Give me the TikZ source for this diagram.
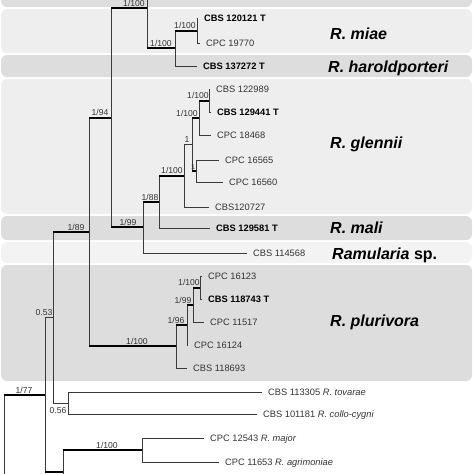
\documentclass[tikz,border=0pt]{standalone}
\usepackage{fontspec}
\setmainfont{Liberation Sans}
\definecolor{bandD}{HTML}{DDDDDD}
\definecolor{bandL}{HTML}{EEEEEE}
\definecolor{bandLL}{HTML}{F3F3F3}
\definecolor{lineC}{HTML}{3A3A3A}
\definecolor{txtC}{HTML}{333333}
\begin{document}
\begin{tikzpicture}[x=1pt,y=-1pt,
  band/.style={rounded corners=6pt, draw=none},
  darkband/.style={band, fill=bandD},
  lightband/.style={band, fill=bandL},
  palestband/.style={band, fill=bandLL},
  vl/.style={draw=lineC, line width=0.9pt},
  hk/.style={draw=black, line width=2pt},
  leaf/.style={anchor=west, inner xsep=6pt, inner ysep=0pt, text height=6.7pt, text depth=0pt, text=txtC, font=\fontsize{9.3}{11}\selectfont},
  bleaf/.style={leaf, text=black, font=\fontsize{9.3}{11}\selectfont\bfseries},
  bs/.style={anchor=south, inner sep=0pt, text height=6.2pt, text depth=0pt, text=txtC, font=\fontsize{8.6}{10}\selectfont},
  clade/.style={anchor=base west, inner sep=0pt, text=black, font=\fontsize{16}{18}\selectfont\bfseries\itshape}]
\clip (0,0) rectangle (474,474);
% background bands
\fill[darkband] (1,-10) rectangle (472,7);
\fill[lightband] (1,9) rectangle (472,53);
\fill[darkband] (1,55) rectangle (472,77);
\fill[lightband] (1,79) rectangle (472,214);
\fill[darkband] (1,216) rectangle (472,240);
\fill[palestband] (1,242) rectangle (472,263);
\fill[darkband] (1,265) rectangle (472,381);
% clade labels
\node[clade] (cmiae) at (330,39) {R. miae};
\node[clade] (charold) at (328,72) {R. haroldporteri};
\node[clade] (cglen) at (330,148) {R. glennii};
\node[clade] (cmali) at (330,233) {R. mali};
\node[clade] (cramu) at (332,259) {Ramularia \upshape sp.};
\node[clade] (cplur) at (330,326) {R. plurivora};
% internal nodes
\coordinate (offTop) at (147,-32);
\coordinate (nTop) at (147,8);
\coordinate (nMiae) at (175,48.25);
\coordinate (nMiaeIn) at (197,30.5);
\coordinate (A) at (111,117.7);
\coordinate (n99) at (143,227.4);
\coordinate (n88) at (159,201.85);
\coordinate (nG100) at (184,175.7);
\coordinate (nG1) at (192,144.4);
\coordinate (nG100b) at (199,117.75);
\coordinate (nG100c) at (209,100.5);
\coordinate (nG1b) at (196,171);
\coordinate (B) at (89,232);
\coordinate (nPlur) at (176,346.4);
\coordinate (nP96) at (187,324.9);
\coordinate (nP99) at (193,304.75);
\coordinate (nP100) at (200,287.5);
\coordinate (n89) at (53,317.5);
\coordinate (n56) at (68,403);
\coordinate (n53) at (45,394.75);
\coordinate (nBot) at (63,472);
\coordinate (offBot) at (63,494);
\coordinate (nMaj) at (142,450);
\coordinate (root) at (4,520);
% leaves
\node[bleaf] (L1) at (198,18) {CBS 120121 T};
\node[leaf] (L2) at (200,43) {CPC 19770};
\node[bleaf] (L3) at (197,66) {CBS 137272 T};
\node[leaf] (L4) at (210,89) {CBS 122989};
\node[bleaf] (L5) at (211,112) {CBS 129441 T};
\node[leaf] (L6) at (211,135) {CPC 18468};
\node[leaf] (L7) at (219,160) {CPC 16565};
\node[leaf] (L8) at (223,182) {CPC 16560};
\node[leaf] (L9) at (209,207) {CBS120727};
\node[bleaf] (L10) at (210,228) {CBS 129581 T};
\node[leaf] (L11) at (247,253) {CBS 114568};
\node[leaf] (L12) at (202,276) {CPC 16123};
\node[bleaf] (L13) at (202,299) {CBS 118743 T};
\node[leaf] (L14) at (204,322) {CPC 11517};
\node[leaf] (L15) at (188,345) {CPC 16124};
\node[leaf] (L16) at (187,368) {CBS 118693};
\node[leaf] (L17) at (262,392) {CBS 113305 \textit{R. tovarae}};
\node[leaf] (L18) at (257,414) {CBS 101181 \textit{R. collo-cygni}};
\node[leaf] (L19) at (204,438) {CPC 12543 \textit{R. major}};
\node[leaf] (L20) at (219,462) {CPC 11653 \textit{R. agrimoniae}};
% thin branches (all)
\foreach \p/\c in {nTop/offTop, A/nTop, A/n99, nTop/nMiae, nMiae/nMiaeIn,
  nMiaeIn/L1.west, nMiaeIn/L2.west, nMiae/L3.west,
  n99/n88, n99/L11.west, n88/nG100, n88/L10.west, nG100/nG1, nG100/L9.west,
  nG1/nG100b, nG1/nG1b, nG100b/nG100c, nG100b/L6.west, nG100c/L4.west, nG100c/L5.west,
  nG1b/L7.west, nG1b/L8.west,
  B/A, B/nPlur, nPlur/nP96, nPlur/L16.west, nP96/nP99, nP96/L15.west,
  nP99/nP100, nP99/L14.west, nP100/L12.west, nP100/L13.west,
  n89/B, n89/n56, n56/L17.west, n56/L18.west,
  n53/n89, n53/nBot, nBot/nMaj, nBot/offBot, nMaj/L19.west, nMaj/L20.west,
  root/n53}
  \draw[vl] (\p) |- (\c);
% thick (supported) branches
\foreach \p/\c in {A/nTop, nTop/nMiae, nMiae/nMiaeIn, B/A, A/n99, n99/n88,
  n88/nG100, nG1/nG100b, nG100b/nG100c, nG1/nG1b, n89/B, B/nPlur, nPlur/nP96,
  nP96/nP99, nP99/nP100, root/n53, n53/nBot, nBot/nMaj}
  \draw[hk] (\p |- \c) -- (\c);
% support values
\node[bs] (s1) at (134,6.5) {1/100};
\node[bs] (s2) at (161,46.5) {1/100};
\node[bs] (s3) at (185,29) {1/100};
\node[bs] (s4) at (100,116) {1/94};
\node[bs] (s5) at (198,99) {1/100};
\node[bs] (s6) at (187,116.5) {1/100};
\node[bs] (s7) at (187,142.5) {1};
\node[bs, font=\fontsize{7}{8}\selectfont, text height=5pt] (s8) at (193,169.5) {1};
\node[bs] (s9) at (172,174) {1/100};
\node[bs] (s10) at (150,200.5) {1/88};
\node[bs] (s11) at (128,226) {1/99};
\node[bs] (s12) at (76,230.5) {1/89};
\node[bs] (s13) at (137,345) {1/100};
\node[bs] (s14) at (44,316) {0.53};
\node[bs] (s15) at (176,323.5) {1/96};
\node[bs] (s16) at (183,303.5) {1/99};
\node[bs] (s17) at (189,286) {1/100};
\node[bs] (s18) at (24,393.5) {1/77};
\node[bs, anchor=center] (s19) at (58,410) {0.56};
\node[bs] (s20) at (107,448.5) {1/100};
\end{tikzpicture}
\end{document}
